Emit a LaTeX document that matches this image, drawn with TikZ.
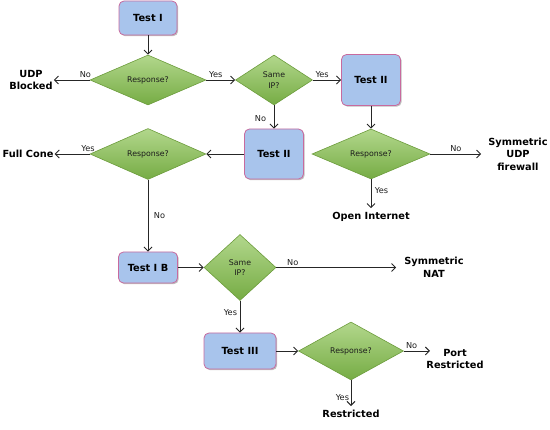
\documentclass[tikz,border=0pt]{standalone}
\usepackage{fontspec}
\setmainfont{DejaVu Sans}
\usetikzlibrary{shapes.geometric,arrows.meta,shadows}
\definecolor{boxfill}{HTML}{A8C4EC}
\definecolor{boxline}{HTML}{C86A9E}
\definecolor{dtop}{HTML}{B2D78C}
\definecolor{dbot}{HTML}{76AC44}
\definecolor{dline}{HTML}{6C9C3C}
\definecolor{txt}{HTML}{1C1C1C}
\begin{document}
\begin{tikzpicture}[x=1pt,y=-1pt,
  testbox/.style={draw=boxline, fill=boxfill, rounded corners=5pt, line width=0.8pt,
    font=\bfseries\fontsize{9.8}{11}\selectfont, inner sep=0pt,
    drop shadow={shadow xshift=1.2pt, shadow yshift=-1.2pt, opacity=0.25, fill=black}},
  decision/.style={diamond, draw=dline, top color=dtop, bottom color=dbot, line width=0.6pt,
    inner sep=0pt, font=\fontsize{7.8}{10.5}\selectfont, align=center, text=txt},
  result/.style={font=\bfseries\fontsize{9.8}{12.5}\selectfont, align=center, inner sep=1pt},
  arr/.style={-{Straight Barb[length=4pt,width=8pt]}, line width=0.9pt, draw=black!85},
  lbl/.style={font=\fontsize{8.2}{9}\selectfont, text=txt, inner sep=1.5pt}]
\useasboundingbox (0,0) rectangle (550,430);

% process boxes and decisions
\node[testbox, minimum width=58pt, minimum height=34pt] (t1) at (148,18) {Test I};
\node[decision, minimum width=116pt, minimum height=50pt] (d1) at (148,80) {Response?};
\node[decision, minimum width=77pt, minimum height=50pt] (s1) at (274,80) {Same\\IP?};
\node[testbox, minimum width=59pt, minimum height=51pt] (t2a) at (371,80) {Test II};
\node[testbox, minimum width=59pt, minimum height=50pt] (t2b) at (274,154) {Test II};
\node[decision, minimum width=116pt, minimum height=51pt] (d2) at (148,154) {Response?};
\node[decision, minimum width=118pt, minimum height=50pt] (d4) at (371,154) {Response?};
\node[testbox, minimum width=59pt, minimum height=31pt] (t1b) at (148,267.5) {Test I B};
\node[decision, minimum width=72pt, minimum height=66pt] (s2) at (240,267.5) {Same\\IP?};
\node[testbox, minimum width=72pt, minimum height=36pt] (t3) at (240,351) {Test III};
\node[decision, minimum width=105pt, minimum height=58pt] (d3) at (351,351) {Response?};

% results
\node[result] (udp) at (31,80) {UDP\\Blocked};
\node[result] (fc) at (28,154) {Full Cone};
\node[result] (suf) at (518,154) {Symmetric\\UDP\\firewall};
\node[result] (oi) at (371,217) {Open Internet};
\node[result] (snat) at (434,267.5) {Symmetric\\NAT};
\node[result] (pr) at (455,359) {Port\\Restricted};
\node[result] (res) at (351,414) {Restricted};
\coordinate (prin) at (430,351);

% connectors
\draw[arr] (t1) -- (d1);
\draw[arr] (d1) -- node[lbl,pos=0.12,above]{No} (udp);
\draw[arr] (d1) -- node[lbl,pos=0.33,above]{Yes} (s1);
\draw[arr] (s1) -- node[lbl,pos=0.33,above]{Yes} (t2a);
\draw[arr] (s1) -- node[lbl,pos=0.55,left,xshift=-6pt]{No} (t2b);
\draw[arr] (t2b) -- (d2);
\draw[arr] (d2) -- node[lbl,pos=0.05,above]{Yes} (fc);
\draw[arr] (t2a) -- (d4);
\draw[arr,shorten >=6pt] (d4) -- node[lbl,pos=0.45,above]{No} (suf);
\draw[arr,shorten >=3pt] (d4) -- node[lbl,pos=0.35,right,xshift=2pt]{Yes} (oi);
\draw[arr] (d2) -- node[lbl,pos=0.5,right,xshift=4pt]{No} (t1b);
\draw[arr] (t1b) -- (s2);
\draw[arr,shorten >=7pt] (s2) -- node[lbl,pos=0.13,above]{No} (snat);
\draw[arr] (s2) -- node[lbl,pos=0.38,left,xshift=-1pt]{Yes} (t3);
\draw[arr] (t3) -- (d3);
\draw[arr] (d3) -- node[lbl,pos=0.3,above]{No} (prin);
\draw[arr,shorten >=3pt] (d3) -- node[lbl,pos=0.6,left]{Yes} (res);
\end{tikzpicture}
\end{document}
